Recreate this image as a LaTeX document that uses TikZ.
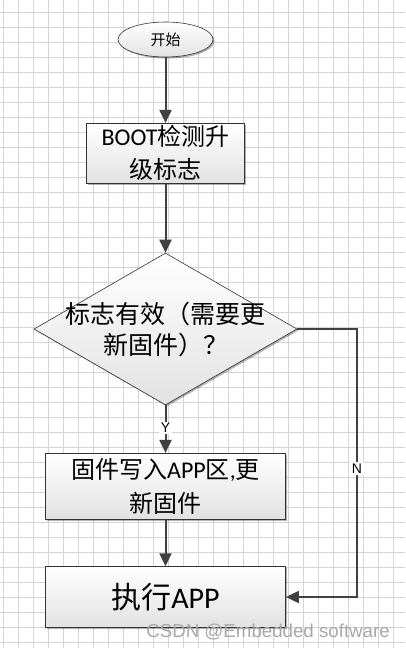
\documentclass[tikz,border=0pt]{standalone}
\usepackage{fontspec}
\newfontfamily\cjk{Noto Sans CJK SC}
\newfontfamily\lat{Carlito}
\newfontfamily\arial{Liberation Sans}
\usetikzlibrary{shapes.geometric,arrows.meta,shadows,calc}
\definecolor{gridc}{HTML}{D4D4D4}
\definecolor{linec}{HTML}{404040}
\definecolor{edgec}{HTML}{333333}
\definecolor{fillbot}{HTML}{E2E2E2}
\definecolor{markc}{HTML}{A8A8A8}
\begin{document}
\begin{tikzpicture}[x=1pt,y=-1pt,
  gridline/.style={draw=gridc, line width=0.8pt},
  shade/.style={top color=white, bottom color=fillbot},
  shadowed/.style={drop shadow={shadow xshift=1.5pt, shadow yshift=-1.5pt, opacity=0.3, fill=black}},
  box/.style={rectangle, draw=edgec, line width=0.8pt, shade, shadowed, inner sep=0pt, align=center, text=black},
  term/.style={ellipse, draw=edgec, line width=0.6pt, shade, shadowed, inner sep=0pt, text=black},
  decision/.style={diamond, draw=edgec, line width=0.6pt, shade, shadowed, inner sep=0pt},
  arr/.style={draw=linec, line width=2pt, -{Triangle[length=13pt,width=12pt]}},
  lbl/.style={fill=white, inner sep=1.5pt, text=black, font=\arial\fontsize{14}{14}\selectfont}
]
\useasboundingbox (0,0) rectangle (405,648);
\fill[white] (0,0) rectangle (405,648);
\foreach \i in {0,...,26} \draw[gridline] (3.5+15*\i,0) -- (3.5+15*\i,648);
\foreach \j in {0,...,42} \draw[gridline] (0,12.5+15*\j) -- (405,12.5+15*\j);

\node[term, minimum width=95pt, minimum height=35pt, font=\cjk\fontsize{15}{15}\selectfont] (start) at (165.5,39.5) {开始};
\node[box, minimum width=157.6pt, minimum height=60pt, font=\cjk\fontsize{24}{33}\selectfont] (boot) at (165.5,153.3) {{\lat BOOT}检测升\\级标志};
\node[decision, minimum width=263pt, minimum height=152pt] (dec) at (165.5,329) {};
\node[align=center, inner sep=0pt, text=black, font=\cjk\fontsize{25}{31}\selectfont] (dectext) at (dec.center) {标志有效（需要更\\新固件）？};
\node[box, minimum width=240pt, minimum height=66pt, font=\cjk\fontsize{24}{34}\selectfont] (upd) at (165.5,486.3) {固件写入{\lat APP}区{\lat ,}更\\新固件};
\node[box, minimum width=240pt, minimum height=60.6pt, font=\cjk\fontsize{30}{30}\selectfont] (run) at (165.5,597) {执行{\lat APP}};
\coordinate (nr) at (357,329);

\draw[arr] (start) -- (boot);
\draw[arr] (boot) -- (dec);
\draw[arr] (dec) -- node[lbl, pos=0.48] (ylab) {Y} (upd);
\draw[arr] (upd) -- (run);
\draw[arr] (dec.east) -- (nr) |- node[lbl, pos=0.26] (nlab) {N} (run.east);

\node[anchor=base east, text=markc, inner sep=0pt, font=\arial\fontsize{18.7}{18.7}\selectfont] (mark) at (390,637) {CSDN @Embedded software};
\end{tikzpicture}
\end{document}
